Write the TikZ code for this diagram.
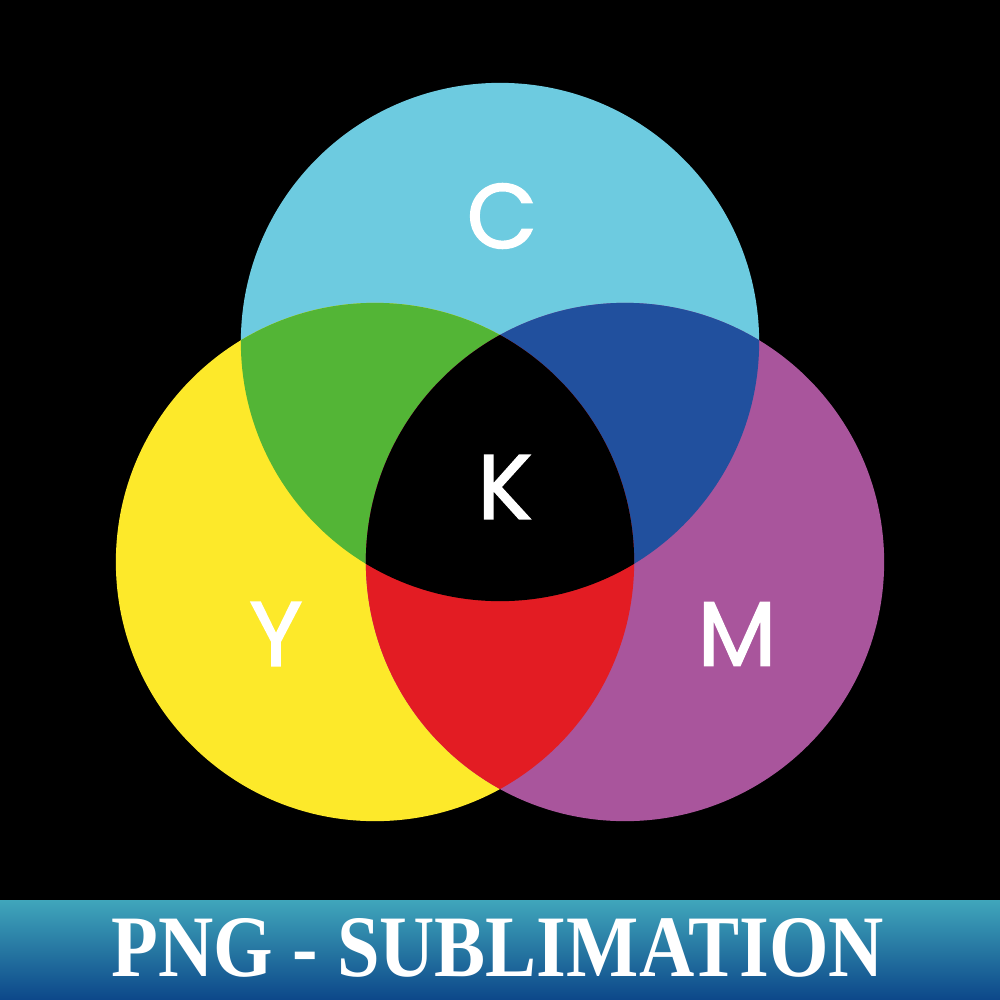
\documentclass[tikz,border=0pt]{standalone}
\usepackage{fontspec}
\newfontfamily\lblfont[FakeBold=1.6]{Poppins}
\newfontfamily\banfont{Liberation Serif}
\definecolor{cyanC}{HTML}{6DCBE0}
\definecolor{yellowY}{HTML}{FDE92A}
\definecolor{magM}{HTML}{A9559C}
\definecolor{greenCY}{HTML}{53B536}
\definecolor{blueCM}{HTML}{21509E}
\definecolor{redYM}{HTML}{E31C23}
\definecolor{banTop}{HTML}{40A6BB}
\definecolor{banBot}{HTML}{0C4789}
\tikzset{
  lbl/.style={text=white, font=\lblfont\fontsize{26}{26}\selectfont, inner sep=0pt},
}
\begin{document}
\begin{tikzpicture}[x=0.01cm,y=-0.01cm]
\fill[black] (0,0) rectangle (1000,1000);
\useasboundingbox (0,0) rectangle (1000,1000);
\coordinate (cC) at (500,342);
\coordinate (cY) at (375,562);
\coordinate (cM) at (625,562);
\def\R{2.59cm}
% base circles
\fill[cyanC] (cC) circle[radius=\R];
\fill[yellowY] (cY) circle[radius=\R];
\fill[magM] (cM) circle[radius=\R];
% pairwise overlaps
\begin{scope}
  \clip (cC) circle[radius=\R];
  \fill[greenCY] (cY) circle[radius=\R];
  \fill[blueCM] (cM) circle[radius=\R];
\end{scope}
\begin{scope}
  \clip (cY) circle[radius=\R];
  \fill[redYM] (cM) circle[radius=\R];
  \clip (cM) circle[radius=\R];
  \fill[black] (cC) circle[radius=\R];
\end{scope}
% labels
\node[lbl] (lC) at (502,216) {C};
\node[lbl] (lK) at (505,487) {K};
\node[lbl] (lY) at (276,634) {Y};
\node[lbl] (lM) at (737,634) {M};
% banner
\shade[top color=banTop, bottom color=banBot] (0,900) rectangle (1000,1000);
\node[text=white, inner sep=0pt] (ban) at (498,948)
  {\resizebox{7.72cm}{0.58cm}{\banfont\bfseries PNG - SUBLIMATION}};
\end{tikzpicture}
\end{document}
